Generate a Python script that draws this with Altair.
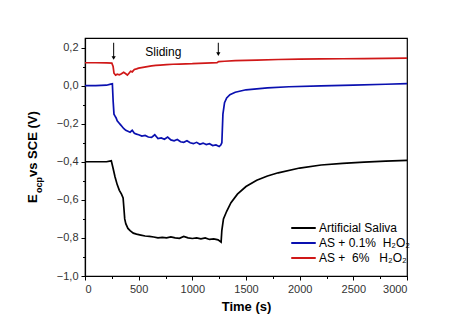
import altair as alt
import pandas as pd

# ---- data ----
series_names = ["Artificial Saliva", "AS + 0.1%\u00a0\u00a0H\u2082O\u2082", "AS +\u00a0\u00a06%\u00a0\u00a0\u00a0H\u2082O\u2082"]
series_colors = ["#000000", "#0a10b0", "#d01818"]

black_t = [0, 100, 200, 245, 260, 280, 300, 320, 340, 355, 362, 370, 380, 400, 420, 450, 480, 520, 560, 600,
           640, 680, 720, 760, 800, 840, 880, 920, 960, 1000, 1040, 1080, 1120, 1160, 1200, 1240, 1268, 1275,
           1290, 1320, 1360, 1420, 1500, 1600, 1700, 1800, 2000, 2200, 2400, 2600, 2800, 3000]
black_v = [-0.400, -0.400, -0.400, -0.395, -0.430, -0.480, -0.520, -0.550, -0.570, -0.590, -0.640, -0.700,
           -0.725, -0.750, -0.762, -0.775, -0.780, -0.785, -0.790, -0.792, -0.795, -0.800, -0.797, -0.800,
           -0.795, -0.800, -0.802, -0.792, -0.800, -0.803, -0.800, -0.805, -0.800, -0.808, -0.805, -0.810,
           -0.822, -0.760, -0.700, -0.660, -0.615, -0.570, -0.530, -0.497, -0.475, -0.458, -0.433, -0.417,
           -0.408, -0.402, -0.397, -0.393]

blue_t = [0, 100, 200, 240, 255, 262, 270, 280, 290, 300, 315, 330, 345, 360, 380, 400, 420, 440, 460, 480,
          500, 530, 560, 590, 620, 650, 680, 710, 740, 770, 800, 830, 860, 890, 920, 950, 980, 1010, 1040,
          1070, 1100, 1130, 1160, 1190, 1220, 1250, 1265, 1275, 1285, 1300, 1320, 1350, 1400, 1500, 1700,
          1900, 2200, 2500, 2800, 3000]
blue_v = [0.000, 0.000, 0.002, 0.008, 0.010, -0.080, -0.150, -0.160, -0.170, -0.185, -0.195, -0.205, -0.215,
          -0.225, -0.235, -0.240, -0.245, -0.235, -0.250, -0.255, -0.258, -0.265, -0.262, -0.270, -0.272,
          -0.258, -0.278, -0.275, -0.282, -0.270, -0.285, -0.290, -0.283, -0.295, -0.298, -0.290, -0.300,
          -0.305, -0.298, -0.308, -0.302, -0.310, -0.305, -0.315, -0.312, -0.320, -0.312, -0.300, -0.150,
          -0.090, -0.065, -0.048, -0.035, -0.022, -0.012, -0.006, -0.001, 0.003, 0.007, 0.010]

red_t = [0, 100, 200, 250, 262, 270, 285, 300, 320, 340, 360, 380, 395, 410, 425, 440, 460, 480, 500, 540,
         580, 620, 660, 700, 760, 820, 880, 940, 1000, 1060, 1120, 1180, 1230, 1245, 1300, 1400, 1600, 1800,
         2000, 2200, 2400, 2600, 2800, 3000]
red_v = [0.120, 0.120, 0.119, 0.118, 0.100, 0.065, 0.055, 0.060, 0.057, 0.062, 0.070, 0.062, 0.055, 0.065,
         0.075, 0.072, 0.085, 0.088, 0.092, 0.096, 0.100, 0.104, 0.106, 0.108, 0.110, 0.112, 0.113, 0.114,
         0.115, 0.117, 0.118, 0.119, 0.120, 0.126, 0.128, 0.131, 0.134, 0.137, 0.139, 0.140, 0.141, 0.142,
         0.143, 0.144]

x_ticks = [0, 500, 1000, 1500, 2000, 2500, 3000]
y_ticks = [-1.0, -0.8, -0.6, -0.4, -0.2, 0.0, 0.2]
x_minor = [250, 750, 1250, 1750, 2250, 2750]
y_minor = [-0.9, -0.7, -0.5, -0.3, -0.1, 0.1]

arrow_t = [267, 1242]
arrow_top = [0.225, 0.225]
arrow_tip = [0.145, 0.165]
sliding_label = "Sliding"
sliding_t = [730]
sliding_v = [0.178]

# ---- build tables ----
rows = []
for name, ts, vs in zip(series_names, [black_t, blue_t, red_t], [black_v, blue_v, red_v]):
    assert len(ts) == len(vs)
    for t, v in zip(ts, vs):
        rows.append({"t": t, "v": v, "series": name})
df = pd.DataFrame(rows)
arrows = pd.DataFrame({"t": arrow_t, "top": arrow_top, "tip": arrow_tip})
label_df = pd.DataFrame({"t": sliding_t, "v": sliding_v, "text": [sliding_label]})
minor_df = pd.DataFrame({"t": x_minor, "v": y_minor})

FONT = "Liberation Sans"
xscale = alt.Scale(domain=[0, 3000], nice=False)
yscale = alt.Scale(domain=[-1.0, 0.25], nice=False)
xaxis = alt.Axis(title="Time (s)", values=x_ticks, format="d", titleFont=FONT, titleFontSize=13,
                 titleFontWeight="bold", titlePadding=6, titleColor="#000", labelOverlap=False)
yaxis = alt.Axis(title=None, values=y_ticks, labelOverlap=False,
                 labelExpr="replace(format(datum.value, '.1f'), '.', ',')")
xminor_axis = alt.Axis(title=None, values=x_minor, labels=False, domain=False, tickSize=2.5,
                       orient="bottom", grid=False)
yminor_axis = alt.Axis(title=None, values=y_minor, labels=False, domain=False, tickSize=2.5,
                       orient="left", grid=False)

lines = alt.Chart(df).mark_line(strokeWidth=1.7, clip=True).encode(
    x=alt.X("t:Q", scale=xscale, axis=xaxis),
    y=alt.Y("v:Q", scale=yscale, axis=yaxis),
    color=alt.Color("series:N", scale=alt.Scale(domain=series_names, range=series_colors),
                    sort=series_names,
                    legend=alt.Legend(title=None, orient="none", legendX=205, legendY=184,
                                      symbolType="stroke", symbolSize=600, symbolStrokeWidth=2,
                                      clipHeight=12,
                                      labelFont=FONT, labelFontSize=12, labelColor="#000",
                                      rowPadding=3, labelOffset=2)),
    order=alt.Order("t:Q"),
)

arrow_shaft = alt.Chart(arrows).mark_rule(color="#000", strokeWidth=1).encode(
    x=alt.X("t:Q", scale=xscale, axis=xaxis), y=alt.Y("top:Q", scale=yscale, axis=yaxis), y2="tip:Q")
arrow_head = alt.Chart(arrows).mark_point(shape="triangle-down", filled=True, color="#000",
                                          size=18, opacity=1).encode(
    x=alt.X("t:Q", scale=xscale, axis=xaxis), y=alt.Y("tip:Q", scale=yscale, axis=yaxis))
sliding = alt.Chart(label_df).mark_text(font=FONT, fontSize=12, color="#000").encode(
    x=alt.X("t:Q", scale=xscale, axis=xaxis), y=alt.Y("v:Q", scale=yscale, axis=yaxis), text="text:N")

main = alt.layer(lines, arrow_shaft, arrow_head, sliding)

minor = alt.Chart(minor_df).mark_point(opacity=0).encode(
    x=alt.X("t:Q", scale=xscale, axis=xminor_axis),
    y=alt.Y("v:Q", scale=yscale, axis=yminor_axis),
)

ytitle_e = alt.Chart(label_df).mark_text(font=FONT, fontSize=13, fontWeight="bold", angle=270,
                                         align="left", baseline="middle", color="#000").encode(
    x=alt.value(-52), y=alt.value(165), text=alt.value("E"))
ytitle_sub = alt.Chart(label_df).mark_text(font=FONT, fontSize=9, fontWeight="bold", angle=270,
                                           align="left", baseline="middle", color="#000").encode(
    x=alt.value(-46), y=alt.value(155), text=alt.value("ocp"))
ytitle_rest = alt.Chart(label_df).mark_text(font=FONT, fontSize=13, fontWeight="bold", angle=270,
                                            align="left", baseline="middle", color="#000").encode(
    x=alt.value(-52), y=alt.value(139), text=alt.value("vs SCE (V)"))

chart = alt.layer(main, minor, ytitle_e, ytitle_sub, ytitle_rest).resolve_axis(
    x="independent", y="independent"
).properties(
    width=322, height=238,
    autosize=alt.AutoSizeParams(type="none"),
    padding={"left": 85, "top": 38, "right": 67, "bottom": 56},
    background="white",
).configure_view(stroke="#000", strokeWidth=1.2).configure_axis(
    grid=False, domainColor="#000", domainWidth=1.2, tickColor="#000", tickSize=4, tickWidth=1,
    labelFont=FONT, labelFontSize=11, labelColor="#333", labelPadding=3, labelOverlap=False,
)

chart.save("out.html", embed_options={"renderer": "svg", "actions": False})
